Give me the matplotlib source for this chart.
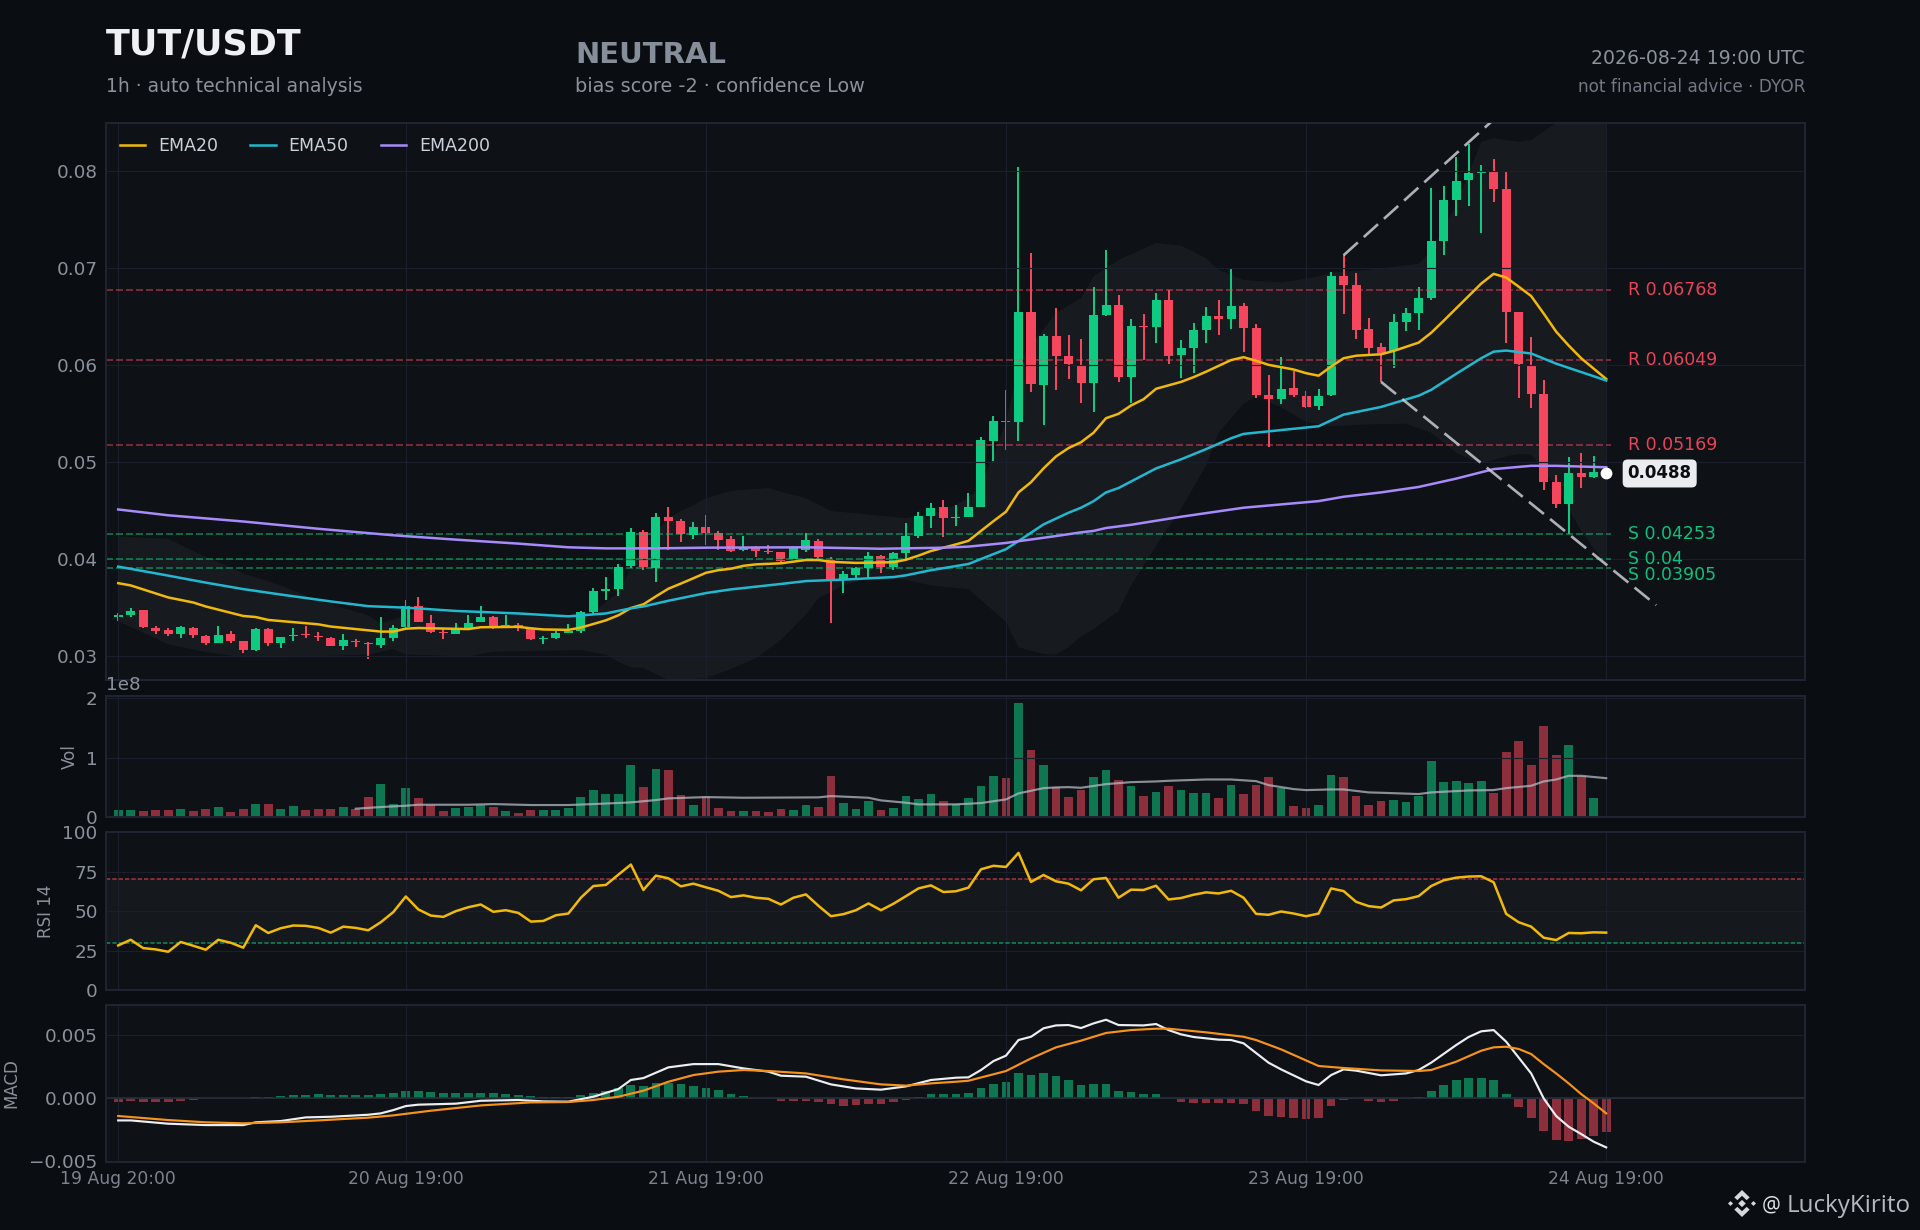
import matplotlib
matplotlib.use('Agg')
import matplotlib.pyplot as plt
from matplotlib.patches import Polygon
import numpy as np

# hourly candles, idx 0 = 19 Aug 20:00
opens = [.03398,.03424,.03469,.03289,.03263,.03221,.03289,.03203,.03132,.03221,
         .03147,.03057,.03274,.03132,.03199,.03221,.03199,.03177,.03098,.03154,
         .03135,.03109,.03184,.03293,.03507,.03341,.03240,.03225,.03274,.03349,
         .03394,.03300,.03315,.03274,.03173,.03180,.03236,.03255,.03454,.03671,
         .03687,.03926,.04274,.03903,.04428,.04387,.04240,.04323,.04263,.04199,
         .04086,.04112,.04079,.04068,.03986,.04094,.04180,.03997,.03780,.03828,
         .03903,.04031,.03911,.04060,.04233,.04439,.04529,.04417,.04432,.04529,
         .05212,.05418,.05407,.06542,.05792,.06294,.06088,.05998,.05811,.06509,
         .06614,.05871,.06396,.06389,.06666,.06100,.06171,.06355,.06497,.06471,
         .06602,.06377,.05684,.05646,.05755,.05676,.05571,.05687,.06909,.06819,
         .06366,.06182,.06137,.06437,.06531,.06685,.07273,.07697,.07902,.07973,
         .07996,.07809,.06542,.05998,.05695,.04792,.04563,.04882,.04841]
highs = [.03443,.03491,.03472,.03304,.03285,.03308,.03293,.03210,.03304,.03259,
         .03150,.03289,.03289,.03191,.03289,.03304,.03244,.03188,.03221,.03169,
         .03139,.03402,.03315,.03574,.03600,.03424,.03282,.03334,.03416,.03510,
         .03409,.03416,.03341,.03289,.03206,.03259,.03326,.03458,.03702,.03807,
         .03948,.04315,.04293,.04466,.04529,.04405,.04375,.04450,.04282,.04237,
         .04233,.04128,.04139,.04068,.04117,.04263,.04199,.04012,.03870,.03918,
         .04068,.04034,.04071,.04364,.04484,.04570,.04600,.04548,.04672,.05249,
         .05467,.05743,.08037,.07146,.06320,.06580,.06310,.06268,.06804,.07179,
         .06722,.06471,.06520,.06737,.06767,.06253,.06434,.06598,.06666,.06985,
         .06636,.06415,.05897,.06077,.05935,.05728,.05747,.06950,.07127,.06943,
         .06478,.06227,.06527,.06580,.06804,.07820,.07839,.08142,.08270,.08053,
         .08120,.07996,.06542,.06283,.05837,.04867,.05047,.05088,.05058]
lows = [.03356,.03401,.03289,.03225,.03206,.03184,.03184,.03113,.03132,.03128,
        .03030,.03049,.03102,.03083,.03154,.03184,.03154,.03098,.03057,.03090,
        .02961,.03083,.03154,.03289,.03349,.03236,.03173,.03225,.03274,.03349,
        .03278,.03289,.03255,.03162,.03124,.03169,.03229,.03236,.03431,.03574,
        .03619,.03903,.03884,.03761,.04090,.04173,.04203,.04143,.04090,.04071,
        .04079,.04015,.04045,.03963,.03986,.04071,.04004,.03334,.03649,.03795,
        .03798,.03851,.03884,.04000,.04214,.04315,.04226,.04334,.04428,.04529,
        .05009,.05122,.05212,.05721,.05381,.05736,.05852,.05606,.05515,.06505,
        .05822,.05605,.06047,.06227,.06010,.05860,.05912,.06227,.06310,.06366,
        .06130,.05654,.05148,.05597,.05665,.05552,.05534,.05680,.06520,.06265,
        .06085,.05822,.05965,.06347,.06355,.06670,.07130,.07535,.07633,.07355,
        .07678,.06224,.05654,.05552,.04705,.04522,.04253,.04728,.04830]
closes = [.03424,.03465,.03300,.03259,.03221,.03293,.03214,.03128,.03210,.03147,
          .03057,.03274,.03132,.03188,.03210,.03210,.03188,.03102,.03158,.03143,
          .03117,.03177,.03282,.03507,.03349,.03244,.03229,.03282,.03341,.03394,
          .03293,.03315,.03297,.03169,.03184,.03233,.03255,.03454,.03664,.03683,
          .03918,.04274,.03914,.04428,.04387,.04255,.04323,.04263,.04192,.04075,
          .04109,.04075,.04068,.03978,.04117,.04192,.04015,.03791,.03840,.03903,
          .04031,.03914,.04060,.04233,.04436,.04522,.04417,.04428,.04529,.05223,
          .05418,.05407,.06542,.05800,.06294,.06088,.06006,.05811,.06512,.06614,
          .05871,.06396,.06385,.06666,.06088,.06171,.06355,.06497,.06471,.06602,
          .06377,.05684,.05646,.05747,.05684,.05567,.05676,.06909,.06819,.06355,
          .06171,.06115,.06437,.06531,.06685,.07273,.07697,.07891,.07973,.07992,
          .07809,.06542,.06006,.05695,.04792,.04563,.04882,.04841,.04893]
last_price = 0.04878

ema20_x = [0,1,4,6,7,10,11,12,16,17,21,22,23,24,28,29,32,33,34,36,37,39,40,41,42,43,44,45,46,47,
           48,49,50,51,53,55,56,57,59,62,63,64,65,67,68,69,70,71,72,73,74,75,76,77,78,79,80,81,82,83,
           85,86,87,89,90,91,92,94,95,96,97,98,99,101,102,104,105,106,107,109,110,111,112,113,114,115,116,117,119]
ema20 = [.03747,.03724,.03600,.03548,.03507,.03409,.03398,.03368,.03323,.03300,.03248,.03248,.03278,.03285,
         .03274,.03293,.03297,.03282,.03270,.03266,.03289,.03364,.03416,.03491,.03529,.03611,.03690,.03743,
         .03798,.03854,.03881,.03896,.03926,.03941,.03952,.03986,.03986,.03967,.03956,.03963,.03989,.04031,
         .04079,.04147,.04184,.04286,.04387,.04484,.04683,.04788,.04930,.05054,.05140,.05200,.05298,.05448,
         .05493,.05579,.05643,.05751,.05822,.05871,.05927,.06047,.06077,.06040,.05998,.05950,.05912,.05886,
         .05980,.06066,.06092,.06107,.06141,.06227,.06328,.06452,.06580,.06835,.06936,.06898,.06804,.06707,
         .06527,.06340,.06197,.06066,.05852]
ema50_x = [0,4,7,10,13,17,20,23,27,32,36,39,41,42,44,47,49,53,55,58,62,63,65,68,71,72,74,76,77,78,79,80,
           83,85,87,89,90,96,98,101,104,105,107,109,110,111,113,115,119]
ema50 = [.03918,.03825,.03753,.03686,.03630,.03559,.03510,.03495,.03461,.03435,.03405,.03435,.03488,.03507,
         .03566,.03645,.03683,.03739,.03769,.03784,.03810,.03828,.03881,.03945,.04098,.04181,.04353,.04473,
         .04525,.04592,.04683,.04728,.04930,.05024,.05129,.05241,.05286,.05365,.05485,.05564,.05680,.05740,
         .05905,.06066,.06134,.06145,.06115,.06010,.05837]
ema200_x = [0,4,10,16,22,27,32,36,39,43,47,55,61,66,68,71,75,77,78,79,81,85,90,96,98,101,104,107,110,113,115,119]
ema200 = [.04507,.04447,.04383,.04308,.04241,.04196,.04155,.04117,.04106,.04106,.04113,.04117,.04102,.04113,
          .04124,.04162,.04233,.04271,.04286,.04316,.04349,.04432,.04525,.04593,.04638,.04683,.04739,.04825,
          .04923,.04957,.04957,.04942]

bb_up_x = [0,4,6,10,13,16,20,21,24,36,38,40,42,44,45,46,47,49,52,53,55,57,60,63,66,68,69,70,71,72,73,75,77,78,
           80,83,85,87,88,90,93,96,97,100,104,105,107,109,110,112,113,115,116,119]
bb_up = [.04229,.04203,.04079,.03847,.03724,.03566,.03416,.03329,.03461,.03424,.03454,.03649,.04136,.04417,
         .04492,.04548,.04623,.04698,.04728,.04690,.04623,.04492,.04454,.04417,.04492,.04623,.04754,.05073,
         .05410,.05972,.06197,.06534,.06684,.06909,.07078,.07254,.07228,.07097,.06977,.06872,.06846,.06909,
         .06947,.06977,.07040,.07172,.07640,.08296,.08334,.08296,.08315,.08491,.08633,.08708]
bb_lo_x = [0,4,7,10,13,20,22,23,28,30,33,37,39,40,41,42,44,47,49,51,53,55,56,58,60,63,65,68,70,71,72,74,75,76,
           77,78,80,81,83,85,87,88,89,90,91,93,95,97,100,103,105,107,109,111,112,113,114,115,117,119]
bb_lo = [.03356,.03117,.03038,.02981,.02981,.03011,.03068,.03011,.02993,.03041,.03049,.03057,.03011,.02936,
         .02880,.02873,.02749,.02768,.02862,.02974,.03161,.03424,.03592,.03724,.03798,.03780,.03724,.03686,
         .03461,.03349,.03086,.03019,.03011,.03086,.03199,.03274,.03461,.03724,.04136,.04511,.04961,.05298,
         .05448,.05598,.05673,.05560,.05410,.05365,.05384,.05392,.05298,.05092,.04979,.05054,.05080,.05073,
         .04904,.04735,.04286,.03930]

trend_up_x = [98, 123]
trend_up = [.07127, .10042]
trend_dn_x = [101, 123]
trend_dn = [.05822, .03521]

res_levels = [0.06768, 0.06049, 0.05169]
res_label_y = [0.06768, 0.06049, 0.05169]
sup_levels = [0.04253, 0.04, 0.03905]
sup_label_y = [0.04253, 0.04, 0.0383]

volume = [.123,.112,.095,.112,.112,.129,.095,.129,.162,.078,.129,.213,.213,.129,.179,.112,.129,.129,.162,.140,
          .331,.549,.213,.482,.314,.196,.095,.146,.162,.196,.162,.095,.062,.112,.112,.112,.146,.331,.448,.381,
          .381,.885,.499,.818,.801,.364,.196,.331,.146,.095,.095,.095,.078,.129,.112,.196,.162,.700,.230,.129,
          .263,.112,.146,.347,.297,.381,.263,.213,.314,.515,.700,.650,1.927,1.126,.885,.504,.331,.448,.667,.785,
          .616,.515,.347,.415,.515,.448,.398,.398,.314,.532,.381,.532,.683,.482,.179,.146,.196,.717,.667,.347,
          .196,.263,.280,.246,.347,.952,.583,.600,.566,.600,.398,1.089,1.274,.885,1.541,1.053,1.221,.700,.314]
vol_ma_x = [19,21,23,24,28,30,33,36,38,41,43,44,47,50,56,57,60,61,63,64,67,69,71,72,74,75,76,77,79,81,83,84,87,
            89,91,92,94,95,97,98,100,101,104,105,108,110,111,113,114,115,116,117,119]
vol_ma = [.140,.168,.190,.207,.207,.218,.202,.202,.218,.246,.286,.314,.336,.325,.331,.353,.325,.280,.241,.213,
          .213,.235,.297,.398,.487,.499,.504,.493,.555,.588,.600,.611,.633,.633,.605,.538,.471,.454,.465,.465,
          .415,.409,.387,.415,.448,.454,.487,.527,.600,.633,.695,.695,.655]

rsi = [28.2,31.8,26.5,25.7,24.2,30.4,28.0,25.5,31.8,29.9,26.8,41.0,36.1,39.1,40.8,40.6,39.3,36.3,40.1,39.3,
       37.8,42.9,49.3,59.2,51.0,47.1,46.3,49.9,52.4,54.1,49.5,50.5,48.8,43.3,43.7,47.3,48.4,58.4,65.8,66.5,
       73.0,79.4,63.3,72.4,70.7,65.6,67.3,65.0,62.8,58.8,59.9,58.4,57.7,54.1,58.4,60.5,53.3,46.7,48.0,50.5,
       54.8,50.5,54.6,59.4,64.3,66.2,62.0,62.5,64.8,76.4,78.6,77.9,86.8,68.4,72.8,68.8,67.3,63.1,70.1,70.9,
       58.4,63.5,63.3,66.0,57.3,58.2,60.3,61.8,61.1,62.8,58.4,48.2,47.6,49.7,48.4,46.7,48.4,64.3,62.6,55.8,
       53.1,52.2,56.7,57.5,59.4,65.8,69.4,71.1,71.8,72.0,68.2,48.2,42.9,40.1,33.1,31.6,36.1,35.9,36.5,36.3]

macd_hist = [-.00026,-.00019,-.00026,-.00026,-.00026,-.00021,-.00011,-.00008,-.00002,0,0,.00008,.00008,.00019,.00026,
             .00026,.00034,.00026,.00026,.00026,.00026,.00034,.00042,.00058,.00058,.00050,.00042,.00042,.00042,.00042,
             .00042,.00034,.00026,.00019,.00008,.00008,.00008,.00026,.00042,.00058,.00082,.00106,.00098,.00122,.00122,
             .00114,.00098,.00082,.00066,.00034,.00019,0,0,-.00021,-.00019,-.00019,-.00026,-.00045,-.00061,-.00053,
             -.00045,-.00045,-.00029,-.00011,.00008,.00034,.00034,.00034,.00042,.00082,.00114,.00130,.00201,.00185,.00201,
             .00177,.00146,.00106,.00114,.00114,.00058,.00050,.00034,.00034,0,-.00026,-.00037,-.00037,-.00037,-.00037,
             -.00045,-.00101,-.00140,-.00148,-.00156,-.00164,-.00156,-.00061,-.00013,0,-.00021,-.00029,-.00021,0,.00008,
             .00058,.00106,.00146,.00161,.00161,.00146,.00034,-.00069,-.00156,-.00259,-.00331,-.00339,-.00323,-.00299,-.00267]
macd_x = [0,1,4,7,10,11,13,15,17,20,21,22,23,24,27,29,32,34,36,38,40,41,42,44,46,48,50,52,53,55,57,59,61,63,65,67,
          68,69,70,71,72,73,74,75,76,77,78,79,80,82,83,84,85,86,88,89,90,92,93,95,96,97,98,99,101,103,104,105,107,
          108,109,110,111,113,114,115,116,117,118,119]
macd = [-.00175,-.00175,-.00201,-.00212,-.00212,-.00190,-.00180,-.00151,-.00146,-.00130,-.00119,-.00093,-.00061,
        -.00050,-.00042,-.00019,-.00013,-.00024,-.00026,.00013,.00074,.00146,.00161,.00246,.00272,.00272,.00238,
        .00212,.00180,.00172,.00111,.00079,.00069,.00095,.00146,.00164,.00167,.00225,.00296,.00339,.00463,.00489,
        .00556,.00579,.00582,.00558,.00595,.00624,.00582,.00579,.00590,.00542,.00508,.00487,.00466,.00463,.00437,
        .00283,.00230,.00135,.00106,.00185,.00230,.00220,.00183,.00198,.00225,.00283,.00423,.00487,.00532,.00542,
        .00450,.00198,0,-.00140,-.00225,-.00283,-.00344,-.00389]
signal_x = [0,4,7,10,13,16,20,22,25,29,33,36,38,40,42,44,46,48,50,52,55,58,61,63,65,67,68,71,73,75,77,79,81,83,84,
            87,90,91,93,96,98,101,104,105,107,109,110,111,112,113,114,115,116,117,118,119]
signal = [-.00140,-.00172,-.00190,-.00198,-.00190,-.00175,-.00153,-.00135,-.00098,-.00056,-.00032,-.00029,-.00013,
          .00013,.00061,.00132,.00185,.00212,.00225,.00217,.00198,.00151,.00111,.00101,.00119,.00132,.00140,.00217,
          .00317,.00405,.00458,.00519,.00542,.00553,.00553,.00524,.00489,.00463,.00389,.00257,.00241,.00222,.00217,
          .00225,.00291,.00378,.00405,.00410,.00392,.00352,.00272,.00198,.00119,.00034,-.00040,-.00119]

tick_pos = [0, 23, 47, 71, 95, 119]
tick_labels = ['19 Aug 20:00', '20 Aug 19:00', '21 Aug 19:00', '22 Aug 19:00', '23 Aug 19:00', '24 Aug 19:00']

W, H = 1920, 1230
BG = '#0a0d11'
PANEL = '#0e1116'
GRID = '#1a202b'
SPINE = '#1e2430'
TXT = '#8b929b'
UP = '#0ecb81'
DOWN = '#f6465d'
XLIM = (-0.976, 134.9)
LABEL_X = 120.72

plt.rcParams['font.family'] = 'DejaVu Sans'
fig = plt.figure(figsize=(16, 10.25), dpi=120, facecolor=BG)


def panel(top, bottom):
    a = fig.add_axes([106/W, 1-bottom/H, (1805-106)/W, (bottom-top)/H], facecolor=PANEL)
    a.set_xlim(*XLIM)
    a.set_xticks(tick_pos)
    a.grid(True, color=GRID, lw=0.7)
    a.tick_params(length=0, colors=TXT, labelsize=11, pad=5)
    for s in a.spines.values():
        s.set_color(SPINE)
        s.set_linewidth(1.2)
    return a


ax = panel(123, 680)
ax_v = panel(695.5, 817)
ax_r = panel(832, 990)
ax_m = panel(1005, 1162)

#%% price
x = np.arange(len(closes))
o, h, l, c = map(np.array, (opens, highs, lows, closes))
up = c >= o
col = np.where(up, UP, DOWN)

ax.fill(np.r_[bb_up_x, bb_lo_x[::-1]], np.r_[bb_up, bb_lo[::-1]], color='white', alpha=0.04, lw=0, zorder=0.5)
ax.vlines(x, l, h, colors=col, lw=1.2, zorder=1.2)
ax.bar(x, np.maximum(np.abs(c-o), 0.00006), bottom=np.minimum(o, c), width=0.72, color=col, lw=0, zorder=1.3)

for lev, ly in zip(res_levels, res_label_y):
    ax.plot([XLIM[0], 119.4], [lev, lev], color=DOWN, alpha=0.55, lw=1.0, ls=(0, (4.2, 1.8)), zorder=1.6)
    ax.text(LABEL_X, ly, 'R %g' % lev, color=DOWN, alpha=0.95, fontsize=10.4, va='center')
for lev, ly in zip(sup_levels, sup_label_y):
    ax.plot([XLIM[0], 119.4], [lev, lev], color=UP, alpha=0.55, lw=1.0, ls=(0, (4.2, 1.8)), zorder=1.6)
    ax.text(LABEL_X, ly, 'S %g' % lev, color=UP, alpha=0.95, fontsize=10.4, va='center')

ax.plot(ema20_x, ema20, color='#f0b90b', lw=1.5, label='EMA20', zorder=3)
ax.plot(ema50_x, ema50, color='#22b8cf', lw=1.5, label='EMA50', zorder=3)
ax.plot(ema200_x, ema200, color='#a78bfa', lw=1.5, label='EMA200', zorder=3)
ax.plot(trend_up_x, trend_up, color='#c9ccd2', alpha=0.85, lw=1.6, ls=(0, (7.2, 3.0)), zorder=3.2)
ax.plot(trend_dn_x, trend_dn, color='#c9ccd2', alpha=0.85, lw=1.6, ls=(0, (7.2, 3.0)), zorder=3.2, clip_on=False)
ax.scatter([119], [last_price], s=50, color='white', zorder=4, lw=0)
ax.text(LABEL_X, last_price, '%.4f' % last_price, color='#0b0e11', fontsize=10, fontweight='bold', va='center',
        bbox=dict(boxstyle='round,pad=0.3', fc='#eaecef', ec='none'), zorder=5)

ax.set_ylim(0.02749, 0.08491)
ax.set_yticks([0.03, 0.04, 0.05, 0.06, 0.07, 0.08])
ax.set_yticklabels(['0.03', '0.04', '0.05', '0.06', '0.07', '0.08'])
ax.tick_params(labelbottom=False)
leg = ax.legend(loc='upper left', ncol=3, frameon=False, fontsize=10.4, handlelength=1.47, handletextpad=0.72,
                columnspacing=1.88, borderaxespad=0.4, labelcolor='#c9d1d9')

#%% volume
ax_v.bar(x, np.array(volume)*1e8, width=0.7, color=col, alpha=0.55, lw=0)
ax_v.plot(vol_ma_x, np.array(vol_ma)*1e8, color='#b4bac2', alpha=0.75, lw=1.3)
ax_v.set_ylim(0, 2.05e8)
ax_v.set_yticks([0, 1e8, 2e8])
ax_v.yaxis.get_offset_text().set_color(TXT)
ax_v.yaxis.get_offset_text().set_fontsize(11)
ax_v.set_ylabel('Vol', color=TXT, fontsize=10)
ax_v.yaxis.set_label_coords((79-106)/(1805-106), 0.5)
ax_v.tick_params(labelbottom=False)

#%% rsi
ax_r.axhspan(30, 70, color='white', alpha=0.03, lw=0)
ax_r.axhline(70, color=DOWN, alpha=0.6, lw=1.0, ls=(0, (2.6, 1.2)))
ax_r.axhline(30, color=UP, alpha=0.6, lw=1.0, ls=(0, (2.6, 1.2)))
ax_r.plot(np.arange(len(rsi)), rsi, color='#f0b90b', lw=1.5)
ax_r.set_ylim(0, 100)
ax_r.set_yticks([0, 25, 50, 75, 100])
ax_r.set_ylabel('RSI 14', color=TXT, fontsize=10)
ax_r.yaxis.set_label_coords((55-106)/(1805-106), 0.5)
ax_r.tick_params(labelbottom=False)

#%% macd
hist = np.array(macd_hist)
ax_m.axhline(0, color='#2a303c', lw=0.9)
ax_m.bar(np.arange(len(hist)), hist, width=0.7, color=np.where(hist >= 0, UP, DOWN), alpha=0.55, lw=0)
ax_m.plot(macd_x, macd, color='#eceef1', lw=1.3)
ax_m.plot(signal_x, signal, color='#f7931a', lw=1.3)
ax_m.set_ylim(-0.00505, 0.00741)
ax_m.set_yticks([-0.005, 0, 0.005])
ax_m.set_yticklabels(['\u22120.005', '0.000', '0.005'])
ax_m.set_ylabel('MACD', color=TXT, fontsize=10)
ax_m.yaxis.set_label_coords((20-106)/(1805-106), 0.5)
ax_m.set_xticklabels(tick_labels, fontsize=10.3, color='#7d848e')

#%% header
def label(px, py, s, **kw):
    fig.text(px/W, 1-py/H, s, **kw)


label(106, 55, 'TUT/USDT', color='#eef0f3', fontsize=21, fontweight='bold', va='baseline')
label(106, 87, '1h \u00b7 auto technical analysis', color=TXT, fontsize=11.25, va='center')
label(575, 63, 'NEUTRAL', color='#868e9a', fontsize=17.5, fontweight='bold', va='baseline')
label(575, 87, 'bias score -2 \u00b7 confidence Low', color=TXT, fontsize=11.55, va='center')
label(1805, 58, '2026-08-24 19:00 UTC', color=TXT, fontsize=11.3, ha='right', va='center')
label(1805, 87, 'not financial advice \u00b7 DYOR', color='#727983', fontsize=10.1, ha='right', va='center')

# watermark, logo drawn in its own little axes
logo = fig.add_axes([1728/W, 1-1217/H, 28/W, 27/H])
logo.set_xlim(-1, 1)
logo.set_ylim(-1, 1)
logo.axis('off')
logo_col = '#d5d8dc'
for dx, dy, r in [(0, 0, 0.27), (-0.82, 0, 0.18), (0.82, 0, 0.18)]:
    logo.add_patch(Polygon([(dx-r, dy), (dx, dy+r), (dx+r, dy), (dx, dy-r)], fc=logo_col, lw=0))
logo.add_patch(Polygon([(0, 1), (0.55, 0.45), (0.33, 0.25), (0, 0.57), (-0.33, 0.25), (-0.55, 0.45)], fc=logo_col, lw=0))
logo.add_patch(Polygon([(0, -1), (0.55, -0.45), (0.33, -0.25), (0, -0.57), (-0.33, -0.25), (-0.55, -0.45)], fc=logo_col, lw=0))
label(1762, 1206, '@', color='#dfe2e6', fontsize=12.5, family='Open Sans', va='center')
label(1787, 1206, 'LuckyKirito', color='#b4bac2', fontsize=14.5, family='Open Sans', va='center')

fig.savefig('out.png', dpi=120, facecolor=BG)
